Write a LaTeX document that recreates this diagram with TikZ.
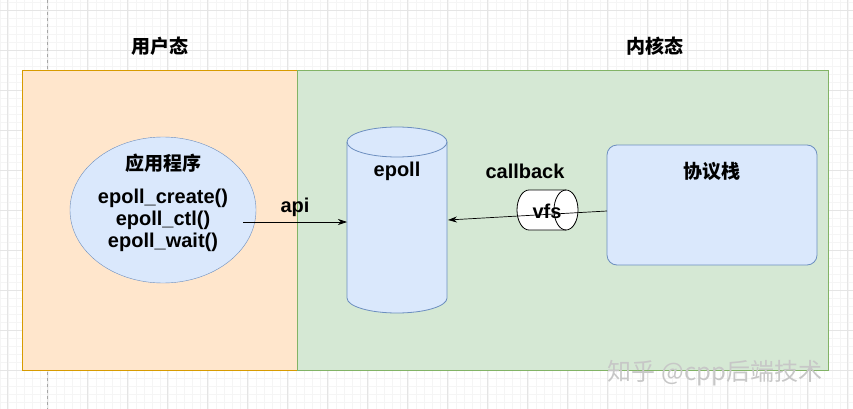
\documentclass[tikz,border=0pt]{standalone}
\usepackage{fontspec}
\setmainfont{Liberation Sans}
\newfontfamily\cjk{Noto Sans CJK SC}
\usetikzlibrary{shapes.geometric,arrows.meta}
\definecolor{og}{HTML}{FFE6CC}\definecolor{ogd}{HTML}{D79B00}
\definecolor{gr}{HTML}{D5E8D4}\definecolor{grd}{HTML}{82B366}
\definecolor{bl}{HTML}{DAE8FC}\definecolor{bld}{HTML}{6C8EBF}
\tikzset{lbl/.style={font=\bfseries\fontsize{20}{22}\selectfont},
 cn/.style={font=\cjk\bfseries\fontsize{19}{22}\selectfont},
 arr/.style={-{Stealth[length=9pt,width=6pt]},line width=0.7pt}}
\begin{document}
\begin{tikzpicture}[x=1pt,y=-1pt]
\useasboundingbox (0,0) rectangle (853,409);
\fill[white] (0,0) rectangle (853,409);
\foreach \i in {0,8,...,853} \draw[black!4] (\i,0)--(\i,409);
\foreach \i in {2,10,...,409} \draw[black!4] (0,\i)--(853,\i);
\foreach \i in {7,47,...,853} \draw[black!10] (\i,0)--(\i,409);
\foreach \i in {10,50,...,409} \draw[black!10] (0,\i)--(853,\i);
\draw[black!35,dashed] (47,0)--(47,409);
\node[draw=ogd,fill=og,minimum width=275pt,minimum height=300pt,inner sep=0,anchor=north west] (user) at (22,70) {};
\node[draw=grd,fill=gr,minimum width=531pt,minimum height=300pt,inner sep=0,anchor=north west] (kern) at (297,70) {};
\node[cn] (t1) at (160,46) {用户态};
\node[cn] (t2) at (655,46) {内核态};
\node[ellipse,draw=bld,fill=bl,minimum width=186pt,minimum height=146pt,inner sep=0] (app) at (163,210) {};
\node[cn] at (163,163) {应用程序};
\node[lbl,align=center] at (163,220) {epoll\_create()\\epoll\_ctl()\\epoll\_wait()};
% epoll cylinder
\filldraw[draw=bld,fill=bl,line width=0.8pt] (347,142) -- (347,298) arc[start angle=180,end angle=360,x radius=50,y radius=-15] -- (447,142) arc[start angle=0,end angle=180,x radius=50,y radius=-15] -- cycle;
\draw[draw=bld,line width=0.8pt] (347,142) arc[start angle=180,end angle=360,x radius=50,y radius=-15];
\node[inner sep=0,minimum width=100pt,minimum height=186pt] (ep) at (397,220) {};
\node[lbl] at (397,171) {epoll};
\node[draw=bld,fill=bl,rounded corners=10pt,minimum width=210pt,minimum height=120pt,inner sep=0,line width=0.8pt] (ps) at (712,205) {};
\node[cn] at (712,171) {协议栈};
% vfs cylinder (horizontal)
\filldraw[draw=black,fill=white,line width=0.8pt] (529,190) -- (566,190) arc[start angle=90,end angle=-90,x radius=12,y radius=-20] -- (529,230) arc[start angle=-90,end angle=-270,x radius=12,y radius=-20] -- cycle;
\draw[line width=0.8pt] (566,190) arc[start angle=90,end angle=270,x radius=12,y radius=-20];
\node[inner sep=0,minimum width=61pt,minimum height=40pt] (vfs) at (547,210) {};
\node[lbl] at (547,211) {vfs};
\node[lbl] at (525,171) {callback};
\coordinate (a1) at (243,222); \coordinate (a2) at (347,222);
\draw[arr] (a1) -- node[lbl,above=2pt] {api} (a2);
\coordinate (b1) at (607,211); \coordinate (b2) at (448,220);
\draw[arr] (b1) -- (b2);
\node[font=\cjk\fontsize{24}{26}\selectfont,text=black!22] (wm) at (715,373) {知乎 @cpp后端技术};
\end{tikzpicture}
\end{document}
